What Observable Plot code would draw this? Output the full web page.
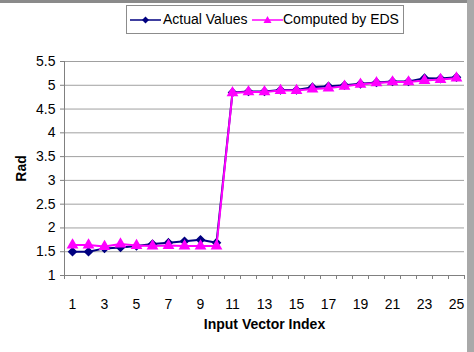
<!DOCTYPE html>
<html>
<head>
<meta charset="utf-8">
<script src="https://cdn.jsdelivr.net/npm/d3@7"></script>
<script src="https://cdn.jsdelivr.net/npm/@observablehq/plot@0.6"></script>
<style>
  html, body { margin: 0; padding: 0; background: #fff; }
  #wrap { position: relative; width: 474px; height: 352px; overflow: hidden; background: #fff;
          font-family: "Liberation Sans", Arial, sans-serif; }
  #legend { position: absolute; left: 126px; top: 5px; width: 276px; height: 27px; border: 1px solid #8c8c8c;
            background: #fff; font-size: 14px; color: #000; white-space: nowrap; }
  .sym { position: absolute; top: 8px; }
  .lab { position: absolute; top: 5px; }
  #topbar { position: absolute; left: 0; top: 0; width: 474px; height: 3px; background: #8a8a8a; }
  #rightbar { position: absolute; right: 0; top: 0; width: 7px; height: 352px; background: #a9a9a9; }
</style>
</head>
<body>
<div id="wrap">
  <div id="chart"></div>
  <div id="legend"></div>
  <div id="topbar"></div>
  <div id="rightbar"></div>
</div>
<script>
const index = d3.range(1, 26);
const actualValues = [1.50, 1.50, 1.57, 1.59, 1.62, 1.66, 1.69, 1.72, 1.75, 1.69,
                      4.85, 4.87, 4.87, 4.90, 4.90, 4.96, 4.98, 5.00, 5.03, 5.06, 5.08, 5.08, 5.15, 5.14, 5.17];
const computedByEDS = [1.64, 1.64, 1.61, 1.66, 1.63, 1.62, 1.63, 1.62, 1.62, 1.62,
                       4.84, 4.86, 4.86, 4.89, 4.89, 4.92, 4.94, 4.98, 5.02, 5.05, 5.07, 5.07, 5.10, 5.12, 5.15];
const seriesNames = ["Actual Values", "Computed by EDS"];
const xTickLabels = [1, 3, 5, 7, 9, 11, 13, 15, 17, 19, 21, 23, 25];
const yTicks = [1, 1.5, 2, 2.5, 3, 3.5, 4, 4.5, 5, 5.5];

const navy = "#000080", magenta = "#ff00ff";
const actual = index.map((i, k) => ({i, v: actualValues[k]}));
const computed = index.map((i, k) => ({i, v: computedByEDS[k]}));
const boundaries = d3.range(0.5, 26, 1);

const chart = Plot.plot({
  width: 474, height: 352,
  marginLeft: 64, marginRight: 10, marginTop: 61, marginBottom: 77,
  style: {fontFamily: '"Liberation Sans", Arial, sans-serif', fontSize: "14px", color: "#000", background: "transparent"},
  x: {domain: [0.5, 25.5]},
  y: {domain: [1, 5.5]},
  marks: [
    Plot.gridY(yTicks.filter(d => d > 1), {stroke: "#a0a0a0", strokeOpacity: 1}),
    Plot.axisY(yTicks, {tickSize: 4, tickPadding: 5, stroke: "#808080", label: "Rad", labelAnchor: "center", labelArrow: "none", labelOffset: 48, tickFormat: d3.format("")}),
    Plot.ruleX([0.5], {stroke: "#808080"}),
    Plot.ruleY([1], {stroke: "#808080"}),
    Plot.axisX(boundaries, {tickSize: 4, tickFormat: () => "", stroke: "#808080", label: null}),
    Plot.axisX(xTickLabels, {tickSize: 0, tickPadding: 24, label: "Input Vector Index", labelAnchor: "center", labelArrow: "none", labelOffset: 53}),
    Plot.line(actual, {x: "i", y: "v", stroke: navy, strokeWidth: 2}),
    Plot.dot(actual, {x: "i", y: "v", symbol: "diamond2", r: 3.4, fill: navy, stroke: navy}),
    Plot.line(computed, {x: "i", y: "v", stroke: magenta, strokeWidth: 2}),
    Plot.dot(computed, {x: "i", y: "v", symbol: "triangle2", r: 4.4, fill: magenta, stroke: magenta})
  ]
});
document.getElementById("chart").appendChild(chart);
chart.querySelectorAll("text").forEach(t => {
  if (t.textContent === "Rad" || t.textContent === "Input Vector Index") {
    t.setAttribute("font-weight", "bold");
  }
});

// legend
const legend = document.getElementById("legend");
const items = [
  {name: seriesNames[0], color: navy, sym: "diamond", symX: 3, labX: 36},
  {name: seriesNames[1], color: magenta, sym: "triangle", symX: 125, labX: 156}
];
items.forEach(it => {
  const s = d3.create("svg").attr("class", "sym").attr("width", 31).attr("height", 12).style("left", it.symX + "px");
  s.append("line").attr("x1", 0).attr("x2", 31).attr("y1", 6).attr("y2", 6).attr("stroke", it.color).attr("stroke-width", 1.5);
  if (it.sym === "diamond") s.append("path").attr("d", "M15.5,2.5L19,6L15.5,9.5L12,6Z").attr("fill", it.color);
  else s.append("path").attr("d", "M15.5,2L19.5,9L11.5,9Z").attr("fill", it.color);
  legend.appendChild(s.node());
  const sp = document.createElement("span");
  sp.className = "lab";
  sp.style.left = it.labX + "px";
  sp.textContent = it.name;
  legend.appendChild(sp);
});
</script>
</body>
</html>
